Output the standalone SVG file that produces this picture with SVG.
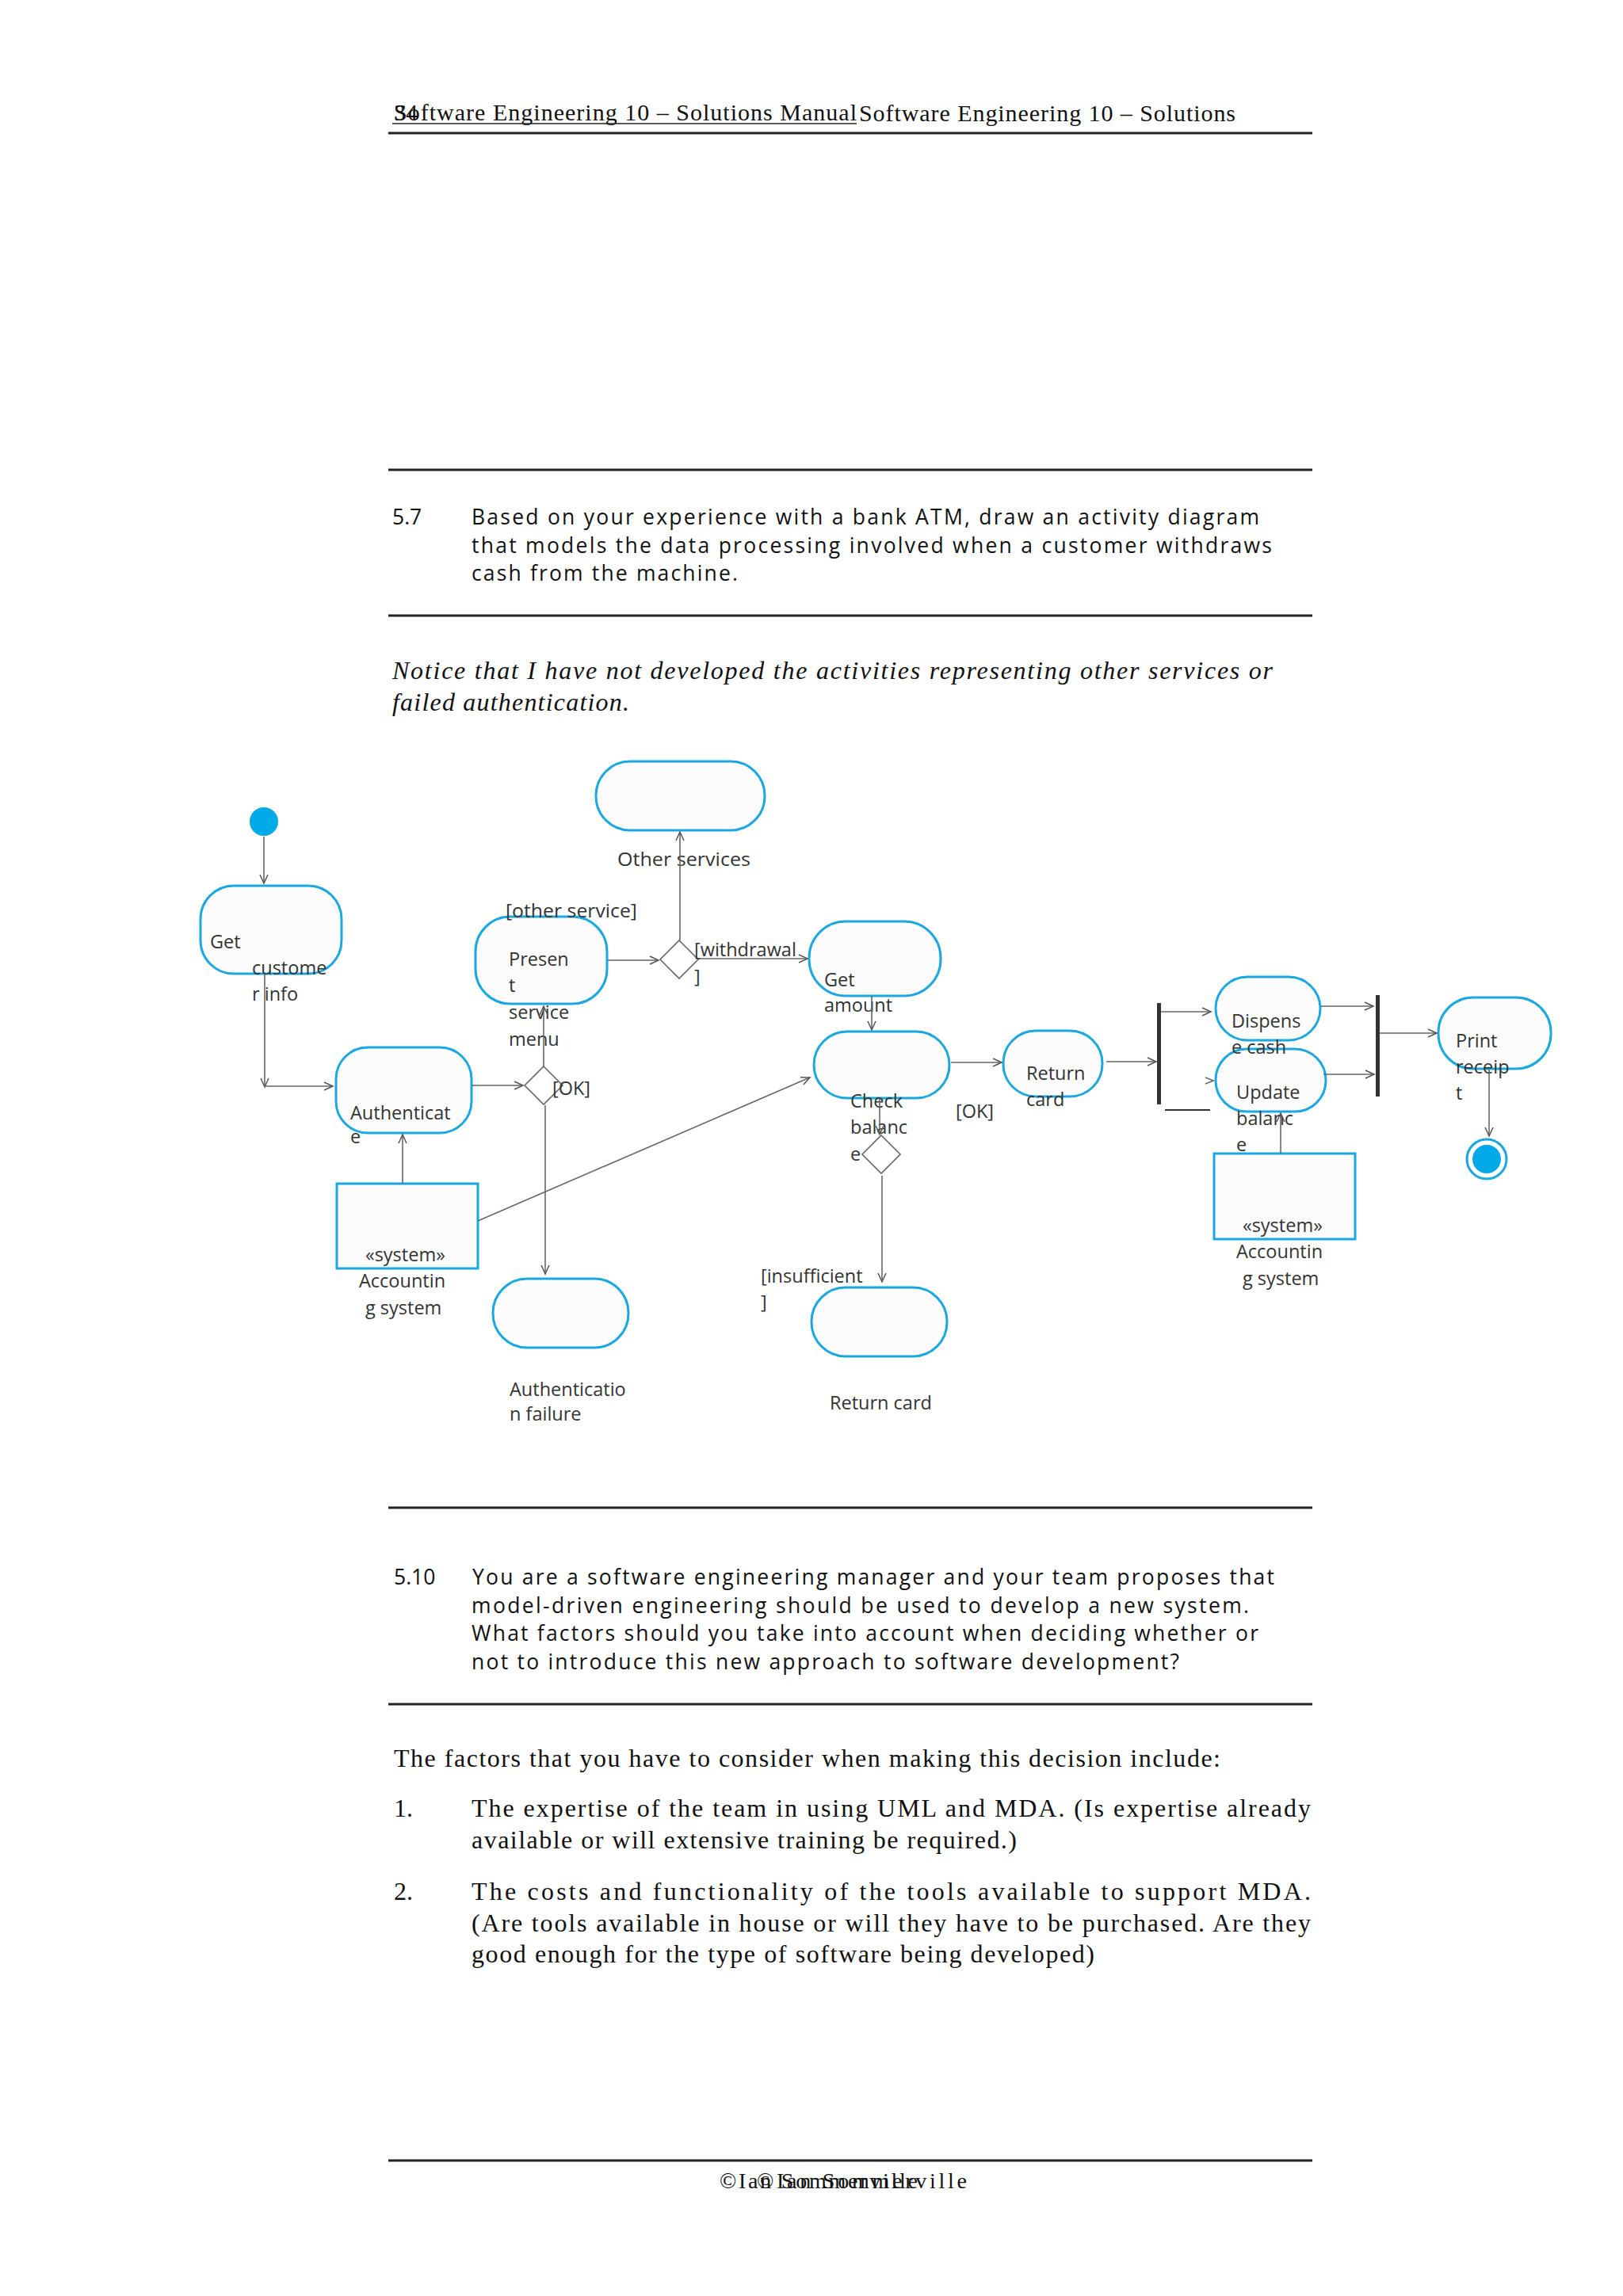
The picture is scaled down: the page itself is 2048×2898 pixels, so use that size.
<svg xmlns="http://www.w3.org/2000/svg" width="2048" height="2898" viewBox="0 0 2048 2898">
<style>
.hdr{font-family:"Liberation Serif",serif;font-size:30px;fill:#111}
.q{font-family:"Open Sans","Liberation Sans",sans-serif;font-size:26.5px;fill:#111}
.it{font-family:"Liberation Serif",serif;font-style:italic;font-size:32px;fill:#111}
.body{font-family:"Liberation Serif",serif;font-size:32px;fill:#111}
.rule{stroke:#222;stroke-width:3}
.box{fill:#FCFCFC;stroke:#1BA8E0;stroke-width:3}
.lbl{font-family:"Open Sans","Liberation Sans",sans-serif;font-size:23.5px;fill:#333}
.dia{fill:#fff;stroke:#666;stroke-width:1.6}
.bar{fill:#333}
.con line,.con path{stroke:#666;stroke-width:1.6;fill:none}
</style>
<defs>
<marker id="arr" markerWidth="14" markerHeight="12" refX="12" refY="6" orient="auto" markerUnits="userSpaceOnUse"><path d="M1,1 L12,6 L1,11" fill="none" stroke="#555" stroke-width="1.5"/></marker>
</defs>
<rect width="2048" height="2898" fill="#fff"/>

<!-- Header -->
<text class="hdr" x="497" y="152">34</text>
<text class="hdr" x="497" y="152" textLength="584" lengthAdjust="spacing">Software Engineering 10 – Solutions Manual</text>
<line x1="495" y1="156" x2="1081" y2="156" stroke="#222" stroke-width="1.5"/>
<text class="hdr" x="1084" y="153" textLength="475" lengthAdjust="spacing">Software Engineering 10 – Solutions</text>
<line class="rule" x1="490" y1="168" x2="1656" y2="168"/>

<!-- Question 5.7 -->
<line class="rule" x1="490" y1="593" x2="1656" y2="593" stroke-width="2.5"/>
<text class="q" x="495" y="662">5.7</text>
<text class="q" x="595" y="662" textLength="994" lengthAdjust="spacing">Based on your experience with a bank ATM, draw an activity diagram</text>
<text class="q" x="595" y="698" textLength="1010" lengthAdjust="spacing">that models the data processing involved when a customer withdraws</text>
<text class="q" x="595" y="733" textLength="336" lengthAdjust="spacing">cash from the machine.</text>
<line class="rule" x1="490" y1="777" x2="1656" y2="777" stroke-width="2.5"/>

<text class="it" x="495" y="857" textLength="1111" lengthAdjust="spacing">Notice that I have not developed the activities representing other services or</text>
<text class="it" x="495" y="897" textLength="299" lengthAdjust="spacing">failed authentication.</text>

<!-- Diagram nodes -->
<g id="start"><circle cx="333" cy="1037" r="18" fill="#00A9E8"/></g>
<g id="get-customer-info"><rect class="box" x="253" y="1118" width="178" height="111" rx="42"/>
<text class="lbl" x="265" y="1197">Get</text><text class="lbl" x="318" y="1230">custome</text><text class="lbl" x="318" y="1263">r info</text></g>
<g id="authenticate"><rect class="box" x="424" y="1322" width="171" height="108" rx="40"/>
<text class="lbl" x="442" y="1413">Authenticat</text><text class="lbl" x="442" y="1443">e</text></g>
<g id="acct-left"><rect class="box" x="425" y="1494" width="178" height="107" rx="0"/>
<text class="lbl" x="461" y="1592">«system»</text><text class="lbl" x="453" y="1625">Accountin</text><text class="lbl" x="461" y="1659">g system</text></g>
<g id="present-menu"><rect class="box" x="600" y="1157" width="166" height="110" rx="44"/>
<text class="lbl" x="642" y="1219">Presen</text><text class="lbl" x="642" y="1252">t</text><text class="lbl" x="642" y="1286">service</text><text class="lbl" x="642" y="1320">menu</text></g>
<g id="other-services"><rect class="box" x="752" y="961" width="213" height="87" rx="43"/>
<text class="lbl" x="779" y="1093" textLength="168" lengthAdjust="spacingAndGlyphs">Other services</text></g>
<g id="auth-failure"><rect class="box" x="622" y="1614" width="171" height="87" rx="43"/>
<text class="lbl" x="643" y="1762">Authenticatio</text><text class="lbl" x="643" y="1793">n failure</text></g>
<g id="decision-ok"><path class="dia" d="M686,1346 L710,1370 L686,1394 L662,1370 Z"/></g>
<g id="decision-service"><path class="dia" d="M857,1187 L881,1211 L857,1235 L833,1211 Z"/></g>
<g id="get-amount"><rect class="box" x="1021" y="1163" width="166" height="94" rx="46"/>
<text class="lbl" x="1040" y="1245">Get</text><text class="lbl" x="1040" y="1277">amount</text></g>
<g id="check-balance"><rect class="box" x="1027" y="1302" width="171" height="84" rx="42"/>
<text class="lbl" x="1073" y="1398">Check</text><text class="lbl" x="1073" y="1431">balanc</text><text class="lbl" x="1073" y="1465">e</text></g>
<g id="decision-balance"><path class="dia" d="M1112,1433 L1136,1457 L1112,1481 L1088,1457 Z"/></g>
<g id="return-card-insufficient"><rect class="box" x="1024" y="1625" width="171" height="87" rx="43"/>
<text class="lbl" x="1047" y="1779">Return card</text></g>
<g id="return-card"><rect class="box" x="1266" y="1301" width="125" height="83" rx="41"/>
<text class="lbl" x="1295" y="1363">Return</text><text class="lbl" x="1295" y="1396">card</text></g>
<g id="fork"><rect class="bar" x="1460" y="1266" width="5" height="128"/></g>
<g id="update-balance"><rect class="box" x="1534" y="1324" width="139" height="79" rx="39"/>
<text class="lbl" x="1560" y="1387">Update</text><text class="lbl" x="1560" y="1420">balanc</text><text class="lbl" x="1560" y="1453">e</text></g>
<g id="dispense-cash"><rect class="box" x="1534" y="1233" width="132" height="80" rx="40"/>
<text class="lbl" x="1554" y="1297">Dispens</text><text class="lbl" x="1554" y="1330">e cash</text></g>
<g id="acct-right"><rect class="box" x="1532" y="1456" width="178" height="108" rx="0"/>
<text class="lbl" x="1568" y="1555">«system»</text><text class="lbl" x="1560" y="1588">Accountin</text><text class="lbl" x="1568" y="1622">g system</text></g>
<g id="join"><rect class="bar" x="1736" y="1256" width="5" height="128"/></g>
<g id="print-receipt"><rect class="box" x="1815" y="1259" width="142" height="90" rx="44"/>
<text class="lbl" x="1837" y="1322">Print</text><text class="lbl" x="1837" y="1355">receip</text><text class="lbl" x="1837" y="1388">t</text></g>
<g id="end"><circle cx="1876" cy="1463" r="25" fill="#fff" stroke="#1BA8E0" stroke-width="3"/><circle cx="1876" cy="1463" r="18" fill="#00A9E8"/></g>

<!-- Connectors -->
<g id="connectors" class="con">
<line x1="333" y1="1056" x2="333" y2="1115" marker-end="url(#arr)"/>
<line x1="334" y1="1229" x2="334" y2="1372" marker-end="url(#arr)"/>
<line x1="334" y1="1371" x2="420" y2="1371" marker-end="url(#arr)"/>
<line x1="596" y1="1370" x2="660" y2="1370" marker-end="url(#arr)"/>
<line x1="686" y1="1346" x2="686" y2="1270" marker-end="url(#arr)"/>
<line x1="688" y1="1395" x2="688" y2="1608" marker-end="url(#arr)"/>
<line x1="508" y1="1494" x2="508" y2="1432" marker-end="url(#arr)"/>
<line x1="767" y1="1212" x2="831" y2="1212" marker-end="url(#arr)"/>
<line x1="858" y1="1187" x2="858" y2="1050" marker-end="url(#arr)"/>
<line x1="881" y1="1210" x2="1019" y2="1210" marker-end="url(#arr)"/>
<line x1="1100" y1="1257" x2="1100" y2="1300" marker-end="url(#arr)"/>
<line x1="603" y1="1541" x2="1022" y2="1360" marker-end="url(#arr)"/>
<line x1="1110" y1="1386" x2="1110" y2="1432" marker-end="url(#arr)"/>
<line x1="1113" y1="1484" x2="1113" y2="1618" marker-end="url(#arr)"/>
<line x1="1200" y1="1341" x2="1264" y2="1341" marker-end="url(#arr)"/>
<line x1="1396" y1="1340" x2="1459" y2="1340" marker-end="url(#arr)"/>
<line x1="1465" y1="1277" x2="1528" y2="1277" marker-end="url(#arr)"/>
<path d="M1521,1360 L1531,1364 L1521,1368"/>
<line x1="1470" y1="1401" x2="1527" y2="1401" style="stroke:#333;stroke-width:2"/>
<line x1="1667" y1="1270" x2="1733" y2="1270" marker-end="url(#arr)"/>
<line x1="1670" y1="1356" x2="1734" y2="1356" marker-end="url(#arr)"/>
<line x1="1741" y1="1304" x2="1813" y2="1304" marker-end="url(#arr)"/>
<line x1="1879" y1="1350" x2="1879" y2="1434" marker-end="url(#arr)"/>
<line x1="1616" y1="1456" x2="1616" y2="1405" marker-end="url(#arr)"/>
<text class="lbl" x="697" y="1382">[OK]</text>
<text class="lbl" x="638" y="1158" textLength="166" lengthAdjust="spacingAndGlyphs">[other service]</text>
<text class="lbl" x="876" y="1207">[withdrawal</text>
<text class="lbl" x="876" y="1241">]</text>
<text class="lbl" x="960" y="1619">[insufficient</text>
<text class="lbl" x="960" y="1652">]</text>
<text class="lbl" x="1206" y="1411">[OK]</text>
</g>

<!-- Question 5.10 -->
<line class="rule" x1="490" y1="1903" x2="1656" y2="1903" stroke-width="2.5"/>
<text class="q" x="497" y="2000">5.10</text>
<text class="q" x="596" y="2000" textLength="1012" lengthAdjust="spacing">You are a software engineering manager and your team proposes that</text>
<text class="q" x="595" y="2036" textLength="981" lengthAdjust="spacing">model-driven engineering should be used to develop a new system.</text>
<text class="q" x="595" y="2071" textLength="993" lengthAdjust="spacing">What factors should you take into account when deciding whether or</text>
<text class="q" x="595" y="2107" textLength="893" lengthAdjust="spacing">not to introduce this new approach to software development?</text>
<line class="rule" x1="490" y1="2151" x2="1656" y2="2151" stroke-width="2.5"/>

<!-- Answer -->
<text class="body" x="497" y="2230" textLength="1043" lengthAdjust="spacing">The factors that you have to consider when making this decision include:</text>
<text class="body" x="497" y="2293">1.</text>
<text class="body" x="595" y="2293" textLength="1059" lengthAdjust="spacing">The expertise of the team in using UML and MDA. (Is expertise already</text>
<text class="body" x="595" y="2333" textLength="688" lengthAdjust="spacing">available or will extensive training be required.)</text>
<text class="body" x="497" y="2398">2.</text>
<text class="body" x="595" y="2398" textLength="1059" lengthAdjust="spacing">The costs and functionality of the tools available to support MDA.</text>
<text class="body" x="595" y="2438" textLength="1059" lengthAdjust="spacing">(Are tools available in house or will they have to be purchased. Are they</text>
<text class="body" x="595" y="2477" textLength="786" lengthAdjust="spacing">good enough for the type of software being developed)</text>

<!-- Footer -->
<line class="rule" x1="490" y1="2727" x2="1656" y2="2727"/>
<text class="hdr" x="908" y="2762" style="font-size:28px" textLength="250" lengthAdjust="spacing">©Ian Sommerville</text>
<text class="hdr" x="955" y="2762" style="font-size:28px" textLength="265" lengthAdjust="spacing">©Ian Sommerville</text>
</svg>
